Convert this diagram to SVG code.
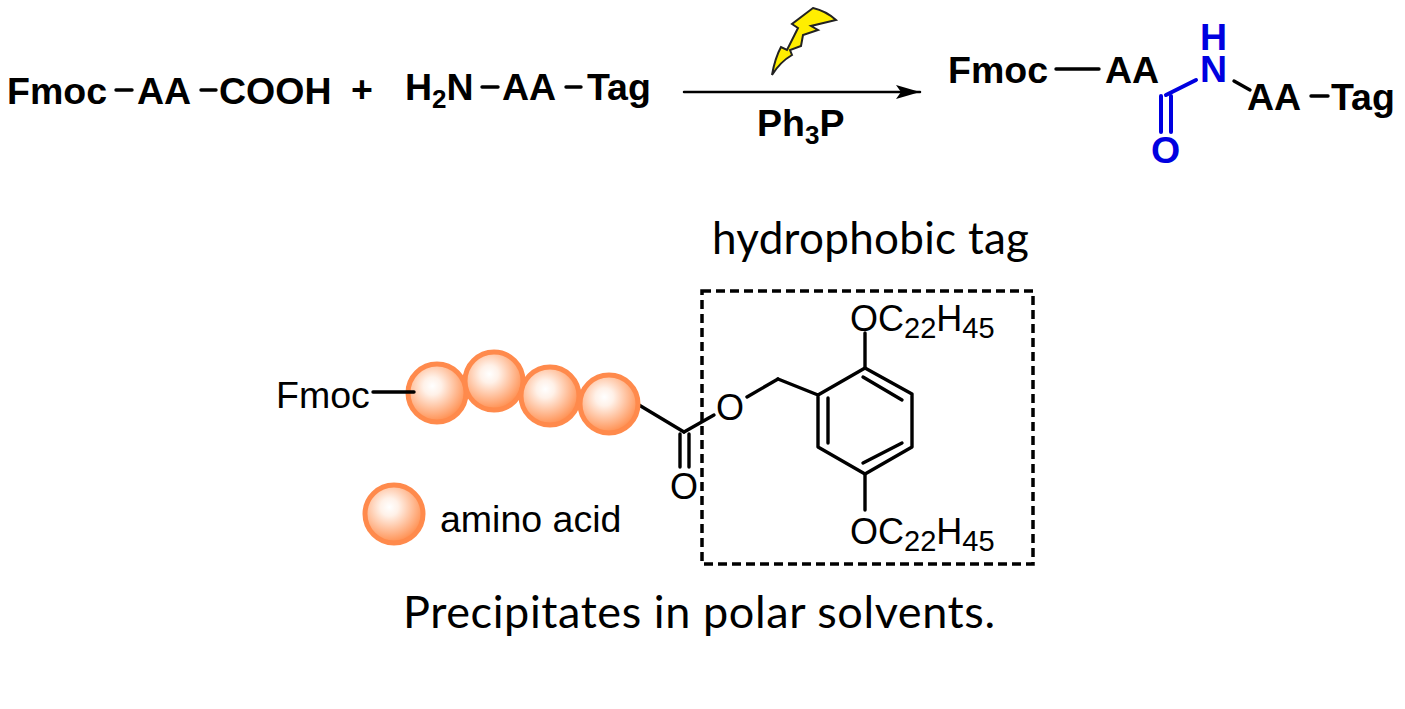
<svg xmlns="http://www.w3.org/2000/svg" width="1405" height="709" viewBox="0 0 1405 709">
<style>
text{font-family:"Liberation Sans",Arial,sans-serif;fill:#000}
.b{font-weight:700;font-size:37.5px}
.sb{font-size:26px}
.blue{fill:#0000e0}
.c{font-size:37.5px}
.f{font-size:36px}
.s{font-size:29px}
.cal{font-family:Lato,"Open Sans",sans-serif}
line,polyline{fill:none;stroke:#000;stroke-width:3.4;stroke-linecap:round;stroke-linejoin:round}
.bl{stroke:#0000e0;stroke-width:4}
circle{fill:url(#g);stroke:#ff8a4c;stroke-width:5}
</style>
<defs>
<radialGradient id="g" cx="0.42" cy="0.38" r="0.62">
<stop offset="0" stop-color="#fff"/><stop offset="0.25" stop-color="#fff1e8"/><stop offset="1" stop-color="#ff8f50"/>
</radialGradient>
<marker id="ah" markerUnits="userSpaceOnUse" markerWidth="26" markerHeight="16" refX="24" refY="8" orient="auto"><polygon points="0,1 24,8 0,15 5,8" fill="#000"/></marker>
</defs>
<g id="connectors">
<line x1="116" y1="90" x2="132" y2="90"/>
<line x1="201" y1="90" x2="216" y2="90"/>
<line x1="482" y1="87" x2="498" y2="87"/>
<line x1="566" y1="87" x2="581" y2="87"/>
<line x1="684" y1="92" x2="920" y2="92" style="stroke-width:2.5" marker-end="url(#ah)"/>
<line x1="1056" y1="69" x2="1099" y2="69"/>
<line x1="1234" y1="81" x2="1250" y2="90"/>
<line x1="1311" y1="96" x2="1328" y2="96"/>
<line class="bl" x1="1166" y1="95" x2="1196" y2="80"/>
<line class="bl" x1="1161" y1="96" x2="1161" y2="132"/>
<line class="bl" x1="1171" y1="96" x2="1171" y2="132"/>
<line x1="639" y1="405" x2="684" y2="432"/>
<line x1="684" y1="432" x2="714" y2="415"/>
<line x1="680" y1="434" x2="680" y2="467"/>
<line x1="689" y1="434" x2="689" y2="467"/>
<line x1="747" y1="397" x2="778" y2="379"/>
</g>
<g id="reaction-left">
<text class="b" x="7" y="104">Fmoc</text>
<text class="b" x="137" y="104">AA</text>
<text class="b" x="219" y="104">COOH</text>
<text class="b" x="351" y="102">+</text>
<text class="b" x="405" y="100">H<tspan class="sb" dy="8">2</tspan><tspan dy="-8">N</tspan></text>
<text class="b" x="502" y="100">AA</text>
<text class="b" x="587" y="100">Tag</text>
</g>
<g id="bolt">
<path d="M772,75 Q775,58 781,47 L787,50 L798,28 L792,24 L813,8 Q826,11 836,20 L811,26 L818,30 L803,35 L801,46 L790,50 L792,55 Q780,62 772,75Z" fill="#ffee00" stroke="#222" stroke-width="2" stroke-linejoin="miter"/>
</g>
<g id="reagent"><text class="b" x="757" y="136">Ph<tspan class="sb" dy="8">3</tspan><tspan dy="-8">P</tspan></text></g>
<g id="product">
<text class="b" x="948" y="83">Fmoc</text>
<text class="b" x="1105" y="83">AA</text>
<text class="b blue"><tspan x="1200" y="50">H</tspan><tspan x="1200" y="82">N</tspan></text>
<text class="b blue" x="1151" y="163">O</text>
<text class="b" x="1247" y="110">AA</text>
<text class="b" x="1331" y="110">Tag</text>
</g>
<g id="tag-label"><text class="cal" font-size="44" x="712" y="254" textLength="317">hydrophobic tag</text></g>
<g id="tag-box"><rect x="702" y="291" width="331" height="273" fill="none" stroke="#000" stroke-width="3.5" stroke-dasharray="9 5"/></g>
<g id="peptide">
<text class="c" x="276" y="408">Fmoc</text>
<circle cx="437" cy="393" r="29"/>
<circle cx="494" cy="381" r="29"/>
<circle cx="550" cy="396" r="29"/>
<circle cx="609" cy="404" r="29"/>
<line x1="373" y1="392" x2="414" y2="392"/>
</g>
<g id="ester">
<text class="f" x="670" y="499">O</text>
<text class="f" x="716" y="420">O</text>
</g>
<g id="benzene">
<polyline points="778,379 818,395 865,368 912,394 912,447 865,474 818,447 818,395"/>
<line x1="865" y1="368" x2="865" y2="333"/>
<line x1="865" y1="474" x2="865" y2="510"/>
<line x1="828" y1="398" x2="828" y2="443"/>
<line x1="863" y1="377" x2="902" y2="400"/>
<line x1="863" y1="463" x2="902" y2="443"/>
<text class="f" x="850" y="331">OC<tspan class="s" dy="7">22</tspan><tspan dy="-7">H</tspan><tspan class="s" dy="7">45</tspan></text>
<text class="f" x="850" y="544">OC<tspan class="s" dy="7">22</tspan><tspan dy="-7">H</tspan><tspan class="s" dy="7">45</tspan></text>
</g>
<g id="legend">
<circle cx="394" cy="514" r="29"/>
<text class="c" x="440" y="532">amino acid</text>
</g>
<g id="caption"><text class="cal" font-size="45" x="403" y="628" textLength="592">Precipitates in polar solvents.</text></g>
</svg>
